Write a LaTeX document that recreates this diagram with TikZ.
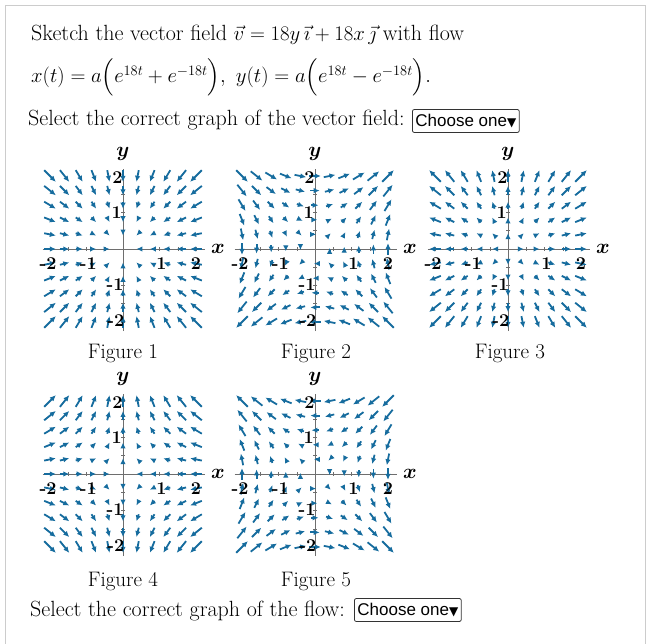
\documentclass[tikz,border=0pt]{standalone}
\usepackage{amsmath}
\usepackage{fontspec}
\newfontfamily\arial{Liberation Sans}
\newfontfamily\dvs{DejaVu Sans}
\usetikzlibrary{arrows.meta}
\definecolor{arr}{RGB}{22,108,158}
\definecolor{axc}{RGB}{110,110,110}
\tikzset{
  txt/.style={anchor=base west,inner sep=0pt,font=\fontsize{22}{26}\selectfont},
  figcap/.style={anchor=base,inner sep=0pt,font=\fontsize{21}{25}\selectfont},
  ticklab/.style={inner sep=0pt,font=\bfseries\fontsize{18}{20}\selectfont},
  vec/.style={draw=arr,line width=1.8pt,-{Latex[length=6pt,width=5.5pt]}},
  ddbox/.style={draw=black!80,rounded corners=2pt,line width=0.8pt,inner xsep=3pt,inner ysep=2pt,minimum height=23pt,font=\arial\fontsize{17}{19}\selectfont,anchor=west}
}
\newcommand\myplot[4]{%
\begin{scope}[shift={(#1,#2)},x=36.5pt,y=36.5pt]
  \draw[axc,line width=0.8pt] (-2.2,0) -- (2.25,0);
  \draw[axc,line width=0.8pt] (0,-2.25) -- (0,2.2);
  \foreach \t in {-2,-1.5,...,2}{\draw[axc,line width=0.5pt] (\t,-0.05)--(\t,0.05); \draw[axc,line width=0.5pt] (-0.05,\t)--(0.05,\t);}
  \foreach \i in {-5,...,5}{\foreach \j in {-5,...,5}{%
    \pgfmathsetmacro\X{0.4*\i}\pgfmathsetmacro\Y{0.4*\j}%
    \pgfmathsetmacro\U{#3}\pgfmathsetmacro\V{#4}%
    \pgfmathsetmacro\M{abs(\U)+abs(\V)}%
    \ifdim\M pt>0.01pt
      \draw[vec] (\X-0.08*\U,\Y-0.08*\V) -- (\X+0.08*\U,\Y+0.08*\V);
    \fi}}
  \node[ticklab] at (-2.05,-0.4) {-2};
  \node[ticklab] at (-0.95,-0.4) {-1};
  \node[ticklab] at (1.05,-0.4) {1};
  \node[ticklab] at (2.0,-0.4) {2};
  \node[ticklab] at (-0.17,1.0) {1};
  \node[ticklab] at (-0.15,1.95) {2};
  \node[ticklab] at (-0.22,-0.97) {-1};
  \node[ticklab] at (-0.2,-1.97) {-2};
  \node[ticklab,font=\fontsize{22}{24}\selectfont] at (2.6,0) {$\boldsymbol{x}$};
  \node[ticklab,font=\fontsize{22}{24}\selectfont] at (0,2.6) {$\boldsymbol{y}$};
\end{scope}}
\begin{document}
\begin{tikzpicture}[x=1pt,y=-1pt]
\useasboundingbox (0,0) rectangle (662,644);
\draw[black!20,line width=0.8pt] (5,5) -- (645,5) -- (645,644);
\draw[black!20,line width=0.8pt] (5,5) -- (5,644);
\node[txt] (t1) at (31,41) {Sketch the vector field $\vec v = 18y\,\vec\imath + 18x\,\vec\jmath$ with flow};
\node[txt] (t2) at (31,83) {$x(t)=a\Bigl(e^{18t}+e^{-18t}\Bigr),\ y(t)=a\Bigl(e^{18t}-e^{-18t}\Bigr).$};
\node[txt] (t3) at (28,126) {Select the correct graph of the vector field:};
\node[ddbox] (d1) at (412,121) {Choose one{\dvs\fontsize{12}{13}\selectfont▼}};
\myplot{123}{249}{-\X}{-\Y}
\myplot{315}{249}{\Y}{\X}
\myplot{508}{249}{\X}{\Y}
\myplot{123}{474}{-\X}{\Y}
\myplot{315}{474}{-\Y}{-\X}
\node[figcap] (f1) at (123,359) {Figure 1};
\node[figcap] (f2) at (316,359) {Figure 2};
\node[figcap] (f3) at (510,359) {Figure 3};
\node[figcap] (f4) at (123,586) {Figure 4};
\node[figcap] (f5) at (316,586) {Figure 5};
\node[txt] (t4) at (30,616) {Select the correct graph of the flow:};
\node[ddbox] (d2) at (354,610) {Choose one{\dvs\fontsize{12}{13}\selectfont▼}};
\end{tikzpicture}
\end{document}
